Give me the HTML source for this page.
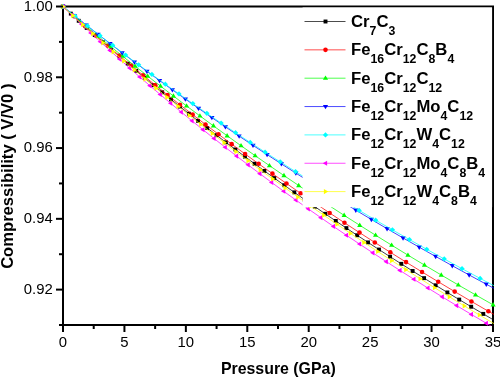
<!DOCTYPE html>
<html><head><meta charset="utf-8"><style>
html,body{margin:0;padding:0;background:#fff;width:500px;height:377px;overflow:hidden}
svg{display:block}
text{font-family:"Liberation Sans",Arial,sans-serif}
.tl{font-size:14.9px;fill:#000}
.lg{font-size:16.7px;font-weight:bold;fill:#000}
.lg .s{font-size:12.3px}
.at{font-weight:bold;fill:#000}
</style></head><body>
<svg width="500" height="377" viewBox="0 0 500 377">
<defs><clipPath id="cp"><rect x="62" y="5.5" width="432" height="320.5"/></clipPath></defs>
<g stroke="#000" stroke-width="2" fill="none">
<rect x="63.0" y="6.5" width="430.0" height="318.5"/>
</g>
<g>
<g><path d="M63.00,6.50 L70.82,13.65 L78.71,20.80 L86.69,27.95 L94.75,35.09 L102.88,42.24 L111.10,49.39 L119.40,56.54 L127.79,63.69 L136.26,70.84 L144.82,77.99 L153.46,85.13 L162.19,92.28 L171.01,99.43 L179.92,106.58 L188.93,113.73 L198.02,120.88 L207.21,128.03 L216.50,135.17 L225.88,142.32 L235.36,149.47 L244.93,156.62 L254.61,163.77 L264.39,170.92 L274.27,178.07 L284.25,185.21 L294.34,192.36 L304.53,199.51 L314.83,206.66 L325.24,213.81 L335.77,220.96 L346.40,228.11 L357.14,235.25 L368.01,242.40 L378.98,249.55 L390.08,256.70 L401.29,263.85 L412.62,271.00 L424.08,278.15 L435.66,285.29 L447.37,292.44 L459.20,299.59 L471.16,306.74 L483.25,313.89 L495.48,321.04 L507.84,328.18 L520.33,335.33" fill="none" stroke="#000000" stroke-width="1" stroke-opacity="0.75" clip-path="url(#cp)"/><rect x="61.05" y="4.54" width="3.91" height="3.91" fill="#000000"/><rect x="68.86" y="11.69" width="3.91" height="3.91" fill="#000000"/><rect x="76.76" y="18.84" width="3.91" height="3.91" fill="#000000"/><rect x="84.74" y="25.99" width="3.91" height="3.91" fill="#000000"/><rect x="92.79" y="33.14" width="3.91" height="3.91" fill="#000000"/><rect x="100.93" y="40.29" width="3.91" height="3.91" fill="#000000"/><rect x="109.15" y="47.44" width="3.91" height="3.91" fill="#000000"/><rect x="117.45" y="54.58" width="3.91" height="3.91" fill="#000000"/><rect x="125.83" y="61.73" width="3.91" height="3.91" fill="#000000"/><rect x="134.30" y="68.88" width="3.91" height="3.91" fill="#000000"/><rect x="142.86" y="76.03" width="3.91" height="3.91" fill="#000000"/><rect x="151.50" y="83.18" width="3.91" height="3.91" fill="#000000"/><rect x="160.24" y="90.33" width="3.91" height="3.91" fill="#000000"/><rect x="169.06" y="97.48" width="3.91" height="3.91" fill="#000000"/><rect x="177.97" y="104.62" width="3.91" height="3.91" fill="#000000"/><rect x="186.97" y="111.77" width="3.91" height="3.91" fill="#000000"/><rect x="196.07" y="118.92" width="3.91" height="3.91" fill="#000000"/><rect x="205.26" y="126.07" width="3.91" height="3.91" fill="#000000"/><rect x="214.54" y="133.22" width="3.91" height="3.91" fill="#000000"/><rect x="223.92" y="140.37" width="3.91" height="3.91" fill="#000000"/><rect x="233.40" y="147.52" width="3.91" height="3.91" fill="#000000"/><rect x="242.98" y="154.66" width="3.91" height="3.91" fill="#000000"/><rect x="252.65" y="161.81" width="3.91" height="3.91" fill="#000000"/><rect x="262.43" y="168.96" width="3.91" height="3.91" fill="#000000"/><rect x="272.31" y="176.11" width="3.91" height="3.91" fill="#000000"/><rect x="282.29" y="183.26" width="3.91" height="3.91" fill="#000000"/><rect x="292.38" y="190.41" width="3.91" height="3.91" fill="#000000"/><rect x="302.58" y="197.56" width="3.91" height="3.91" fill="#000000"/><rect x="312.88" y="204.70" width="3.91" height="3.91" fill="#000000"/><rect x="323.29" y="211.85" width="3.91" height="3.91" fill="#000000"/><rect x="333.81" y="219.00" width="3.91" height="3.91" fill="#000000"/><rect x="344.44" y="226.15" width="3.91" height="3.91" fill="#000000"/><rect x="355.19" y="233.30" width="3.91" height="3.91" fill="#000000"/><rect x="366.05" y="240.45" width="3.91" height="3.91" fill="#000000"/><rect x="377.03" y="247.60" width="3.91" height="3.91" fill="#000000"/><rect x="388.12" y="254.74" width="3.91" height="3.91" fill="#000000"/><rect x="399.34" y="261.89" width="3.91" height="3.91" fill="#000000"/><rect x="410.67" y="269.04" width="3.91" height="3.91" fill="#000000"/><rect x="422.13" y="276.19" width="3.91" height="3.91" fill="#000000"/><rect x="433.71" y="283.34" width="3.91" height="3.91" fill="#000000"/><rect x="445.41" y="290.49" width="3.91" height="3.91" fill="#000000"/><rect x="457.25" y="297.64" width="3.91" height="3.91" fill="#000000"/><rect x="469.21" y="304.78" width="3.91" height="3.91" fill="#000000"/><rect x="481.30" y="311.93" width="3.91" height="3.91" fill="#000000"/></g><g><path d="M63.00,6.50 L73.98,16.33 L85.11,26.16 L96.40,35.99 L107.85,45.82 L119.45,55.66 L131.23,65.49 L143.17,75.32 L155.28,85.15 L167.57,94.98 L180.03,104.81 L192.67,114.64 L205.49,124.47 L218.50,134.30 L231.69,144.13 L245.08,153.97 L258.67,163.80 L272.45,173.63 L286.43,183.46 L300.63,193.29 L315.03,203.12 L329.64,212.95 L344.47,222.78 L359.52,232.61 L374.80,242.44 L390.31,252.28 L406.04,262.11 L422.02,271.94 L438.24,281.77 L454.70,291.60 L471.42,301.43 L488.39,311.26 L505.61,321.09 L523.11,330.92" fill="none" stroke="#ff0000" stroke-width="1" stroke-opacity="0.75" clip-path="url(#cp)"/><circle cx="63.00" cy="6.50" r="2.29" fill="#ff0000"/><circle cx="73.98" cy="16.33" r="2.29" fill="#ff0000"/><circle cx="85.11" cy="26.16" r="2.29" fill="#ff0000"/><circle cx="96.40" cy="35.99" r="2.29" fill="#ff0000"/><circle cx="107.85" cy="45.82" r="2.29" fill="#ff0000"/><circle cx="119.45" cy="55.66" r="2.29" fill="#ff0000"/><circle cx="131.23" cy="65.49" r="2.29" fill="#ff0000"/><circle cx="143.17" cy="75.32" r="2.29" fill="#ff0000"/><circle cx="155.28" cy="85.15" r="2.29" fill="#ff0000"/><circle cx="167.57" cy="94.98" r="2.29" fill="#ff0000"/><circle cx="180.03" cy="104.81" r="2.29" fill="#ff0000"/><circle cx="192.67" cy="114.64" r="2.29" fill="#ff0000"/><circle cx="205.49" cy="124.47" r="2.29" fill="#ff0000"/><circle cx="218.50" cy="134.30" r="2.29" fill="#ff0000"/><circle cx="231.69" cy="144.13" r="2.29" fill="#ff0000"/><circle cx="245.08" cy="153.97" r="2.29" fill="#ff0000"/><circle cx="258.67" cy="163.80" r="2.29" fill="#ff0000"/><circle cx="272.45" cy="173.63" r="2.29" fill="#ff0000"/><circle cx="286.43" cy="183.46" r="2.29" fill="#ff0000"/><circle cx="300.63" cy="193.29" r="2.29" fill="#ff0000"/><circle cx="315.03" cy="203.12" r="2.29" fill="#ff0000"/><circle cx="329.64" cy="212.95" r="2.29" fill="#ff0000"/><circle cx="344.47" cy="222.78" r="2.29" fill="#ff0000"/><circle cx="359.52" cy="232.61" r="2.29" fill="#ff0000"/><circle cx="374.80" cy="242.44" r="2.29" fill="#ff0000"/><circle cx="390.31" cy="252.28" r="2.29" fill="#ff0000"/><circle cx="406.04" cy="262.11" r="2.29" fill="#ff0000"/><circle cx="422.02" cy="271.94" r="2.29" fill="#ff0000"/><circle cx="438.24" cy="281.77" r="2.29" fill="#ff0000"/><circle cx="454.70" cy="291.60" r="2.29" fill="#ff0000"/><circle cx="471.42" cy="301.43" r="2.29" fill="#ff0000"/><circle cx="488.39" cy="311.26" r="2.29" fill="#ff0000"/></g><g><path d="M63.00,6.50 L74.60,16.44 L86.37,26.39 L98.29,36.33 L110.39,46.28 L122.65,56.22 L135.08,66.17 L147.68,76.11 L160.46,86.05 L173.42,96.00 L186.57,105.94 L199.90,115.89 L213.41,125.83 L227.13,135.78 L241.03,145.72 L255.14,155.66 L269.44,165.61 L283.96,175.55 L298.68,185.50 L313.62,195.44 L328.77,205.39 L344.14,215.33 L359.74,225.27 L375.57,235.22 L391.63,245.16 L407.93,255.11 L424.46,265.05 L441.25,275.00 L458.28,284.94 L475.56,294.88 L493.11,304.83 L510.92,314.77 L528.99,324.72" fill="none" stroke="#00ff00" stroke-width="1" stroke-opacity="0.75" clip-path="url(#cp)"/><polygon points="63.00,3.78 65.58,8.13 60.42,8.13" fill="#00ff00"/><polygon points="74.60,13.72 77.19,18.08 72.02,18.08" fill="#00ff00"/><polygon points="86.37,23.67 88.95,28.02 83.78,28.02" fill="#00ff00"/><polygon points="98.29,33.61 100.88,37.96 95.71,37.96" fill="#00ff00"/><polygon points="110.39,43.56 112.97,47.91 107.80,47.91" fill="#00ff00"/><polygon points="122.65,53.50 125.23,57.85 120.06,57.85" fill="#00ff00"/><polygon points="135.08,63.45 137.66,67.80 132.49,67.80" fill="#00ff00"/><polygon points="147.68,73.39 150.27,77.74 145.10,77.74" fill="#00ff00"/><polygon points="160.46,83.33 163.05,87.69 157.88,87.69" fill="#00ff00"/><polygon points="173.42,93.28 176.01,97.63 170.84,97.63" fill="#00ff00"/><polygon points="186.57,103.22 189.15,107.57 183.98,107.57" fill="#00ff00"/><polygon points="199.90,113.17 202.48,117.52 197.31,117.52" fill="#00ff00"/><polygon points="213.41,123.11 216.00,127.46 210.83,127.46" fill="#00ff00"/><polygon points="227.13,133.06 229.71,137.41 224.54,137.41" fill="#00ff00"/><polygon points="241.03,143.00 243.62,147.35 238.45,147.35" fill="#00ff00"/><polygon points="255.14,152.94 257.72,157.30 252.55,157.30" fill="#00ff00"/><polygon points="269.44,162.89 272.03,167.24 266.86,167.24" fill="#00ff00"/><polygon points="283.96,172.83 286.54,177.18 281.37,177.18" fill="#00ff00"/><polygon points="298.68,182.78 301.27,187.13 296.10,187.13" fill="#00ff00"/><polygon points="313.62,192.72 316.20,197.07 311.03,197.07" fill="#00ff00"/><polygon points="328.77,202.67 331.35,207.02 326.19,207.02" fill="#00ff00"/><polygon points="344.14,212.61 346.73,216.96 341.56,216.96" fill="#00ff00"/><polygon points="359.74,222.55 362.33,226.91 357.16,226.91" fill="#00ff00"/><polygon points="375.57,232.50 378.15,236.85 372.99,236.85" fill="#00ff00"/><polygon points="391.63,242.44 394.21,246.79 389.05,246.79" fill="#00ff00"/><polygon points="407.93,252.39 410.51,256.74 405.34,256.74" fill="#00ff00"/><polygon points="424.46,262.33 427.05,266.68 421.88,266.68" fill="#00ff00"/><polygon points="441.25,272.28 443.83,276.63 438.66,276.63" fill="#00ff00"/><polygon points="458.28,282.22 460.86,286.57 455.69,286.57" fill="#00ff00"/><polygon points="475.56,292.16 478.15,296.52 472.98,296.52" fill="#00ff00"/><polygon points="493.11,302.11 495.69,306.46 490.53,306.46" fill="#00ff00"/></g><g><path d="M63.00,6.50 L74.52,15.76 L86.20,25.02 L98.03,34.27 L110.01,43.53 L122.16,52.79 L134.47,62.05 L146.94,71.30 L159.58,80.56 L172.40,89.82 L185.38,99.08 L198.55,108.34 L211.89,117.59 L225.41,126.85 L239.12,136.11 L253.02,145.37 L267.10,154.62 L281.39,163.88 L295.87,173.14 L310.55,182.40 L325.43,191.65 L340.52,200.91 L355.82,210.17 L371.34,219.43 L387.08,228.69 L403.04,237.94 L419.22,247.20 L435.63,256.46 L452.28,265.72 L469.16,274.97 L486.28,284.23 L503.66,293.49 L521.28,302.75" fill="none" stroke="#0000ff" stroke-width="1" stroke-opacity="0.75" clip-path="url(#cp)"/><polygon points="63.00,9.22 65.58,4.87 60.42,4.87" fill="#0000ff"/><polygon points="74.52,18.48 77.11,14.13 71.94,14.13" fill="#0000ff"/><polygon points="86.20,27.74 88.78,23.38 83.61,23.38" fill="#0000ff"/><polygon points="98.03,36.99 100.61,32.64 95.44,32.64" fill="#0000ff"/><polygon points="110.01,46.25 112.60,41.90 107.43,41.90" fill="#0000ff"/><polygon points="122.16,55.51 124.74,51.16 119.57,51.16" fill="#0000ff"/><polygon points="134.47,64.77 137.05,60.41 131.88,60.41" fill="#0000ff"/><polygon points="146.94,74.02 149.53,69.67 144.36,69.67" fill="#0000ff"/><polygon points="159.58,83.28 162.17,78.93 157.00,78.93" fill="#0000ff"/><polygon points="172.40,92.54 174.98,88.19 169.81,88.19" fill="#0000ff"/><polygon points="185.38,101.80 187.97,97.45 182.80,97.45" fill="#0000ff"/><polygon points="198.55,111.06 201.13,106.70 195.96,106.70" fill="#0000ff"/><polygon points="211.89,120.31 214.47,115.96 209.30,115.96" fill="#0000ff"/><polygon points="225.41,129.57 228.00,125.22 222.83,125.22" fill="#0000ff"/><polygon points="239.12,138.83 241.70,134.48 236.54,134.48" fill="#0000ff"/><polygon points="253.02,148.09 255.60,143.73 250.43,143.73" fill="#0000ff"/><polygon points="267.10,157.34 269.69,152.99 264.52,152.99" fill="#0000ff"/><polygon points="281.39,166.60 283.97,162.25 278.80,162.25" fill="#0000ff"/><polygon points="295.87,175.86 298.45,171.51 293.28,171.51" fill="#0000ff"/><polygon points="310.55,185.12 313.13,180.76 307.96,180.76" fill="#0000ff"/><polygon points="325.43,194.37 328.01,190.02 322.85,190.02" fill="#0000ff"/><polygon points="340.52,203.63 343.11,199.28 337.94,199.28" fill="#0000ff"/><polygon points="355.82,212.89 358.41,208.54 353.24,208.54" fill="#0000ff"/><polygon points="371.34,222.15 373.93,217.80 368.76,217.80" fill="#0000ff"/><polygon points="387.08,231.41 389.66,227.05 384.49,227.05" fill="#0000ff"/><polygon points="403.04,240.66 405.62,236.31 400.45,236.31" fill="#0000ff"/><polygon points="419.22,249.92 421.80,245.57 416.63,245.57" fill="#0000ff"/><polygon points="435.63,259.18 438.21,254.83 433.05,254.83" fill="#0000ff"/><polygon points="452.28,268.44 454.86,264.08 449.69,264.08" fill="#0000ff"/><polygon points="469.16,277.69 471.74,273.34 466.58,273.34" fill="#0000ff"/><polygon points="486.28,286.95 488.87,282.60 483.70,282.60" fill="#0000ff"/></g><g><path d="M63.00,6.50 L75.17,16.21 L87.51,25.92 L100.02,35.63 L112.72,45.34 L125.59,55.05 L138.66,64.76 L151.91,74.47 L165.35,84.19 L178.99,93.90 L192.82,103.61 L206.86,113.32 L221.10,123.03 L235.56,132.74 L250.22,142.45 L265.10,152.16 L280.20,161.87 L295.53,171.58 L311.08,181.29 L326.87,191.00 L342.89,200.71 L359.16,210.42 L375.67,220.14 L392.42,229.85 L409.43,239.56 L426.70,249.27 L444.24,258.98 L462.04,268.69 L480.11,278.40 L498.47,288.11 L517.10,297.82 L536.02,307.53" fill="none" stroke="#00ffff" stroke-width="1" stroke-opacity="0.75" clip-path="url(#cp)"/><polygon points="63.00,3.87 65.64,6.50 63.00,9.13 60.37,6.50" fill="#00ffff"/><polygon points="75.17,13.58 77.80,16.21 75.17,18.85 72.53,16.21" fill="#00ffff"/><polygon points="87.51,23.29 90.14,25.92 87.51,28.56 84.87,25.92" fill="#00ffff"/><polygon points="100.02,33.00 102.66,35.63 100.02,38.27 97.39,35.63" fill="#00ffff"/><polygon points="112.72,42.71 115.35,45.34 112.72,47.98 110.08,45.34" fill="#00ffff"/><polygon points="125.59,52.42 128.23,55.05 125.59,57.69 122.96,55.05" fill="#00ffff"/><polygon points="138.66,62.13 141.29,64.76 138.66,67.40 136.02,64.76" fill="#00ffff"/><polygon points="151.91,71.84 154.54,74.47 151.91,77.11 149.27,74.47" fill="#00ffff"/><polygon points="165.35,81.55 167.98,84.19 165.35,86.82 162.71,84.19" fill="#00ffff"/><polygon points="178.99,91.26 181.62,93.90 178.99,96.53 176.35,93.90" fill="#00ffff"/><polygon points="192.82,100.97 195.46,103.61 192.82,106.24 190.19,103.61" fill="#00ffff"/><polygon points="206.86,110.68 209.50,113.32 206.86,115.95 204.23,113.32" fill="#00ffff"/><polygon points="221.10,120.39 223.74,123.03 221.10,125.66 218.47,123.03" fill="#00ffff"/><polygon points="235.56,130.10 238.19,132.74 235.56,135.37 232.92,132.74" fill="#00ffff"/><polygon points="250.22,139.81 252.86,142.45 250.22,145.08 247.59,142.45" fill="#00ffff"/><polygon points="265.10,149.53 267.74,152.16 265.10,154.80 262.47,152.16" fill="#00ffff"/><polygon points="280.20,159.24 282.84,161.87 280.20,164.51 277.57,161.87" fill="#00ffff"/><polygon points="295.53,168.95 298.17,171.58 295.53,174.22 292.90,171.58" fill="#00ffff"/><polygon points="311.08,178.66 313.72,181.29 311.08,183.93 308.45,181.29" fill="#00ffff"/><polygon points="326.87,188.37 329.51,191.00 326.87,193.64 324.24,191.00" fill="#00ffff"/><polygon points="342.89,198.08 345.53,200.71 342.89,203.35 340.26,200.71" fill="#00ffff"/><polygon points="359.16,207.79 361.79,210.42 359.16,213.06 356.52,210.42" fill="#00ffff"/><polygon points="375.67,217.50 378.30,220.14 375.67,222.77 373.03,220.14" fill="#00ffff"/><polygon points="392.42,227.21 395.06,229.85 392.42,232.48 389.79,229.85" fill="#00ffff"/><polygon points="409.43,236.92 412.07,239.56 409.43,242.19 406.80,239.56" fill="#00ffff"/><polygon points="426.70,246.63 429.34,249.27 426.70,251.90 424.07,249.27" fill="#00ffff"/><polygon points="444.24,256.34 446.87,258.98 444.24,261.61 441.60,258.98" fill="#00ffff"/><polygon points="462.04,266.05 464.67,268.69 462.04,271.32 459.40,268.69" fill="#00ffff"/><polygon points="480.11,275.76 482.75,278.40 480.11,281.03 477.48,278.40" fill="#00ffff"/></g><g><path d="M63.00,6.50 L72.14,15.30 L81.40,24.10 L90.79,32.89 L100.31,41.69 L109.95,50.49 L119.73,59.29 L129.64,68.08 L139.68,76.88 L149.86,85.68 L160.19,94.48 L170.65,103.27 L181.26,112.07 L192.02,120.87 L202.93,129.67 L213.98,138.47 L225.20,147.26 L236.57,156.06 L248.10,164.86 L259.79,173.66 L271.65,182.45 L283.67,191.25 L295.87,200.05 L308.24,208.85 L320.79,217.64 L333.51,226.44 L346.42,235.24 L359.51,244.04 L372.80,252.83 L386.27,261.63 L399.94,270.43 L413.81,279.23 L427.88,288.03 L442.16,296.82 L456.65,305.62 L471.35,314.42 L486.26,323.22 L501.40,332.01 L516.76,340.81 L532.35,349.61" fill="none" stroke="#ff00ff" stroke-width="1" stroke-opacity="0.75" clip-path="url(#cp)"/><polygon points="60.28,6.50 64.63,3.92 64.63,9.08" fill="#ff00ff"/><polygon points="69.42,15.30 73.77,12.71 73.77,17.88" fill="#ff00ff"/><polygon points="78.68,24.10 83.03,21.51 83.03,26.68" fill="#ff00ff"/><polygon points="88.07,32.89 92.42,30.31 92.42,35.48" fill="#ff00ff"/><polygon points="97.59,41.69 101.94,39.11 101.94,44.27" fill="#ff00ff"/><polygon points="107.23,50.49 111.58,47.90 111.58,53.07" fill="#ff00ff"/><polygon points="117.01,59.29 121.36,56.70 121.36,61.87" fill="#ff00ff"/><polygon points="126.92,68.08 131.27,65.50 131.27,70.67" fill="#ff00ff"/><polygon points="136.96,76.88 141.31,74.30 141.31,79.47" fill="#ff00ff"/><polygon points="147.14,85.68 151.50,83.10 151.50,88.26" fill="#ff00ff"/><polygon points="157.47,94.48 161.82,91.89 161.82,97.06" fill="#ff00ff"/><polygon points="167.93,103.27 172.28,100.69 172.28,105.86" fill="#ff00ff"/><polygon points="178.54,112.07 182.89,109.49 182.89,114.66" fill="#ff00ff"/><polygon points="189.30,120.87 193.65,118.29 193.65,123.45" fill="#ff00ff"/><polygon points="200.21,129.67 204.56,127.08 204.56,132.25" fill="#ff00ff"/><polygon points="211.26,138.47 215.62,135.88 215.62,141.05" fill="#ff00ff"/><polygon points="222.48,147.26 226.83,144.68 226.83,149.85" fill="#ff00ff"/><polygon points="233.85,156.06 238.20,153.48 238.20,158.64" fill="#ff00ff"/><polygon points="245.38,164.86 249.73,162.27 249.73,167.44" fill="#ff00ff"/><polygon points="257.07,173.66 261.42,171.07 261.42,176.24" fill="#ff00ff"/><polygon points="268.93,182.45 273.28,179.87 273.28,185.04" fill="#ff00ff"/><polygon points="280.95,191.25 285.31,188.67 285.31,193.84" fill="#ff00ff"/><polygon points="293.15,200.05 297.50,197.46 297.50,202.63" fill="#ff00ff"/><polygon points="305.52,208.85 309.87,206.26 309.87,211.43" fill="#ff00ff"/><polygon points="318.07,217.64 322.42,215.06 322.42,220.23" fill="#ff00ff"/><polygon points="330.79,226.44 335.14,223.86 335.14,229.03" fill="#ff00ff"/><polygon points="343.70,235.24 348.05,232.66 348.05,237.82" fill="#ff00ff"/><polygon points="356.79,244.04 361.15,241.45 361.15,246.62" fill="#ff00ff"/><polygon points="370.08,252.83 374.43,250.25 374.43,255.42" fill="#ff00ff"/><polygon points="383.55,261.63 387.90,259.05 387.90,264.22" fill="#ff00ff"/><polygon points="397.22,270.43 401.57,267.85 401.57,273.01" fill="#ff00ff"/><polygon points="411.09,279.23 415.44,276.64 415.44,281.81" fill="#ff00ff"/><polygon points="425.16,288.03 429.51,285.44 429.51,290.61" fill="#ff00ff"/><polygon points="439.44,296.82 443.79,294.24 443.79,299.41" fill="#ff00ff"/><polygon points="453.93,305.62 458.28,303.04 458.28,308.21" fill="#ff00ff"/><polygon points="468.63,314.42 472.98,311.83 472.98,317.00" fill="#ff00ff"/><polygon points="483.54,323.22 487.89,320.63 487.89,325.80" fill="#ff00ff"/></g><g><path d="M63.00,6.50 L72.81,15.57 L82.75,24.65 L92.81,33.72 L103.00,42.79 L113.32,51.87 L123.77,60.94 L134.36,70.02 L145.08,79.09 L155.94,88.16 L166.94,97.24 L178.09,106.31 L189.37,115.38 L200.81,124.46 L212.39,133.53 L224.13,142.61 L236.02,151.68 L248.07,160.75 L260.28,169.83 L272.64,178.90 L285.18,187.97 L297.88,197.05 L310.74,206.12 L323.79,215.20 L337.00,224.27 L350.40,233.34 L363.97,242.42 L377.73,251.49 L391.68,260.56 L405.81,269.64 L420.14,278.71 L434.66,287.79 L449.39,296.86 L464.31,305.93 L479.45,315.01 L494.79,324.08 L510.34,333.15 L526.11,342.23" fill="none" stroke="#ffff00" stroke-width="1" stroke-opacity="0.75" clip-path="url(#cp)"/><polygon points="65.72,6.50 61.37,3.92 61.37,9.08" fill="#ffff00"/><polygon points="75.53,15.57 71.18,12.99 71.18,18.16" fill="#ffff00"/><polygon points="85.47,24.65 81.12,22.06 81.12,27.23" fill="#ffff00"/><polygon points="95.53,33.72 91.18,31.14 91.18,36.31" fill="#ffff00"/><polygon points="105.72,42.79 101.37,40.21 101.37,45.38" fill="#ffff00"/><polygon points="116.04,51.87 111.69,49.28 111.69,54.45" fill="#ffff00"/><polygon points="126.49,60.94 122.14,58.36 122.14,63.53" fill="#ffff00"/><polygon points="137.08,70.02 132.73,67.43 132.73,72.60" fill="#ffff00"/><polygon points="147.80,79.09 143.45,76.51 143.45,81.67" fill="#ffff00"/><polygon points="158.66,88.16 154.31,85.58 154.31,90.75" fill="#ffff00"/><polygon points="169.66,97.24 165.31,94.65 165.31,99.82" fill="#ffff00"/><polygon points="180.81,106.31 176.45,103.73 176.45,108.89" fill="#ffff00"/><polygon points="192.09,115.38 187.74,112.80 187.74,117.97" fill="#ffff00"/><polygon points="203.53,124.46 199.18,121.87 199.18,127.04" fill="#ffff00"/><polygon points="215.11,133.53 210.76,130.95 210.76,136.12" fill="#ffff00"/><polygon points="226.85,142.61 222.50,140.02 222.50,145.19" fill="#ffff00"/><polygon points="238.74,151.68 234.39,149.10 234.39,154.26" fill="#ffff00"/><polygon points="250.79,160.75 246.44,158.17 246.44,163.34" fill="#ffff00"/><polygon points="263.00,169.83 258.64,167.24 258.64,172.41" fill="#ffff00"/><polygon points="275.36,178.90 271.01,176.32 271.01,181.48" fill="#ffff00"/><polygon points="287.90,187.97 283.54,185.39 283.54,190.56" fill="#ffff00"/><polygon points="300.60,197.05 296.24,194.46 296.24,199.63" fill="#ffff00"/><polygon points="313.46,206.12 309.11,203.54 309.11,208.71" fill="#ffff00"/><polygon points="326.51,215.20 322.15,212.61 322.15,217.78" fill="#ffff00"/><polygon points="339.72,224.27 335.37,221.69 335.37,226.85" fill="#ffff00"/><polygon points="353.12,233.34 348.76,230.76 348.76,235.93" fill="#ffff00"/><polygon points="366.69,242.42 362.34,239.83 362.34,245.00" fill="#ffff00"/><polygon points="380.45,251.49 376.10,248.91 376.10,254.07" fill="#ffff00"/><polygon points="394.40,260.56 390.04,257.98 390.04,263.15" fill="#ffff00"/><polygon points="408.53,269.64 404.18,267.05 404.18,272.22" fill="#ffff00"/><polygon points="422.86,278.71 418.51,276.13 418.51,281.30" fill="#ffff00"/><polygon points="437.38,287.79 433.03,285.20 433.03,290.37" fill="#ffff00"/><polygon points="452.11,296.86 447.76,294.27 447.76,299.44" fill="#ffff00"/><polygon points="467.03,305.93 462.68,303.35 462.68,308.52" fill="#ffff00"/><polygon points="482.17,315.01 477.81,312.42 477.81,317.59" fill="#ffff00"/></g>
</g>
<rect x="302.6" y="7.5" width="189.5" height="199.7" fill="#fff"/>
<line x1="304.5" y1="21.50" x2="345.5" y2="21.50" stroke="#000000" stroke-width="1" stroke-opacity="0.7"/><rect x="323.55" y="19.55" width="3.91" height="3.91" fill="#000000"/><text x="351" y="27.00" class="lg">Cr<tspan class="s" dy="8">7</tspan><tspan dy="-8">C</tspan><tspan class="s" dy="8">3</tspan></text><line x1="304.5" y1="49.85" x2="345.5" y2="49.85" stroke="#ff0000" stroke-width="1" stroke-opacity="0.7"/><circle cx="325.50" cy="49.85" r="2.29" fill="#ff0000"/><text x="351" y="55.35" class="lg">Fe<tspan class="s" dy="8">16</tspan><tspan dy="-8">Cr</tspan><tspan class="s" dy="8">12</tspan><tspan dy="-8">C</tspan><tspan class="s" dy="8">8</tspan><tspan dy="-8">B</tspan><tspan class="s" dy="8">4</tspan></text><line x1="304.5" y1="78.20" x2="345.5" y2="78.20" stroke="#00ff00" stroke-width="1" stroke-opacity="0.7"/><polygon points="325.50,75.48 328.08,79.83 322.92,79.83" fill="#00ff00"/><text x="351" y="83.70" class="lg">Fe<tspan class="s" dy="8">16</tspan><tspan dy="-8">Cr</tspan><tspan class="s" dy="8">12</tspan><tspan dy="-8">C</tspan><tspan class="s" dy="8">12</tspan></text><line x1="304.5" y1="106.55" x2="345.5" y2="106.55" stroke="#0000ff" stroke-width="1" stroke-opacity="0.7"/><polygon points="325.50,109.27 328.08,104.92 322.92,104.92" fill="#0000ff"/><text x="351" y="112.05" class="lg">Fe<tspan class="s" dy="8">12</tspan><tspan dy="-8">Cr</tspan><tspan class="s" dy="8">12</tspan><tspan dy="-8">Mo</tspan><tspan class="s" dy="8">4</tspan><tspan dy="-8">C</tspan><tspan class="s" dy="8">12</tspan></text><line x1="304.5" y1="134.90" x2="345.5" y2="134.90" stroke="#00ffff" stroke-width="1" stroke-opacity="0.7"/><polygon points="325.50,132.27 328.13,134.90 325.50,137.53 322.87,134.90" fill="#00ffff"/><text x="351" y="140.40" class="lg">Fe<tspan class="s" dy="8">12</tspan><tspan dy="-8">Cr</tspan><tspan class="s" dy="8">12</tspan><tspan dy="-8">W</tspan><tspan class="s" dy="8">4</tspan><tspan dy="-8">C</tspan><tspan class="s" dy="8">12</tspan></text><line x1="304.5" y1="163.25" x2="345.5" y2="163.25" stroke="#ff00ff" stroke-width="1" stroke-opacity="0.7"/><polygon points="322.78,163.25 327.13,160.67 327.13,165.83" fill="#ff00ff"/><text x="351" y="168.75" class="lg">Fe<tspan class="s" dy="8">12</tspan><tspan dy="-8">Cr</tspan><tspan class="s" dy="8">12</tspan><tspan dy="-8">Mo</tspan><tspan class="s" dy="8">4</tspan><tspan dy="-8">C</tspan><tspan class="s" dy="8">8</tspan><tspan dy="-8">B</tspan><tspan class="s" dy="8">4</tspan></text><line x1="304.5" y1="191.60" x2="345.5" y2="191.60" stroke="#ffff00" stroke-width="1" stroke-opacity="0.7"/><polygon points="328.22,191.60 323.87,189.02 323.87,194.18" fill="#ffff00"/><text x="351" y="197.10" class="lg">Fe<tspan class="s" dy="8">12</tspan><tspan dy="-8">Cr</tspan><tspan class="s" dy="8">12</tspan><tspan dy="-8">W</tspan><tspan class="s" dy="8">4</tspan><tspan dy="-8">C</tspan><tspan class="s" dy="8">8</tspan><tspan dy="-8">B</tspan><tspan class="s" dy="8">4</tspan></text>
<g stroke="#000" stroke-width="2">
<line x1="63.00" y1="325.00" x2="63.00" y2="332.00"/><line x1="124.43" y1="325.00" x2="124.43" y2="332.00"/><line x1="185.86" y1="325.00" x2="185.86" y2="332.00"/><line x1="247.29" y1="325.00" x2="247.29" y2="332.00"/><line x1="308.71" y1="325.00" x2="308.71" y2="332.00"/><line x1="370.14" y1="325.00" x2="370.14" y2="332.00"/><line x1="431.57" y1="325.00" x2="431.57" y2="332.00"/><line x1="493.00" y1="325.00" x2="493.00" y2="332.00"/><line x1="93.71" y1="325.00" x2="93.71" y2="329.00"/><line x1="155.14" y1="325.00" x2="155.14" y2="329.00"/><line x1="216.57" y1="325.00" x2="216.57" y2="329.00"/><line x1="278.00" y1="325.00" x2="278.00" y2="329.00"/><line x1="339.43" y1="325.00" x2="339.43" y2="329.00"/><line x1="400.86" y1="325.00" x2="400.86" y2="329.00"/><line x1="462.29" y1="325.00" x2="462.29" y2="329.00"/><line x1="63.00" y1="6.50" x2="56.00" y2="6.50"/><line x1="63.00" y1="77.28" x2="56.00" y2="77.28"/><line x1="63.00" y1="148.06" x2="56.00" y2="148.06"/><line x1="63.00" y1="218.83" x2="56.00" y2="218.83"/><line x1="63.00" y1="289.61" x2="56.00" y2="289.61"/><line x1="63.00" y1="41.89" x2="59.00" y2="41.89"/><line x1="63.00" y1="112.67" x2="59.00" y2="112.67"/><line x1="63.00" y1="183.44" x2="59.00" y2="183.44"/><line x1="63.00" y1="254.22" x2="59.00" y2="254.22"/><line x1="63.00" y1="325.00" x2="59.00" y2="325.00"/>
</g>
<text x="63.00" y="346.8" class="tl" text-anchor="middle">0</text><text x="124.43" y="346.8" class="tl" text-anchor="middle">5</text><text x="185.86" y="346.8" class="tl" text-anchor="middle">10</text><text x="247.29" y="346.8" class="tl" text-anchor="middle">15</text><text x="308.71" y="346.8" class="tl" text-anchor="middle">20</text><text x="370.14" y="346.8" class="tl" text-anchor="middle">25</text><text x="431.57" y="346.8" class="tl" text-anchor="middle">30</text><text x="493.00" y="346.8" class="tl" text-anchor="middle">35</text><text x="52.8" y="10.80" class="tl" text-anchor="end">1.00</text><text x="52.8" y="81.58" class="tl" text-anchor="end">0.98</text><text x="52.8" y="152.36" class="tl" text-anchor="end">0.96</text><text x="52.8" y="223.13" class="tl" text-anchor="end">0.94</text><text x="52.8" y="293.91" class="tl" text-anchor="end">0.92</text>
<text x="278.3" y="373.8" class="at" style="font-size:15.9px" text-anchor="middle">Pressure (GPa)</text>
<text transform="translate(12.9,176.2) rotate(-90)" class="at" style="font-size:16.6px" text-anchor="middle">Compressibility ( V/V0 )</text>
</svg>
</body></html>
